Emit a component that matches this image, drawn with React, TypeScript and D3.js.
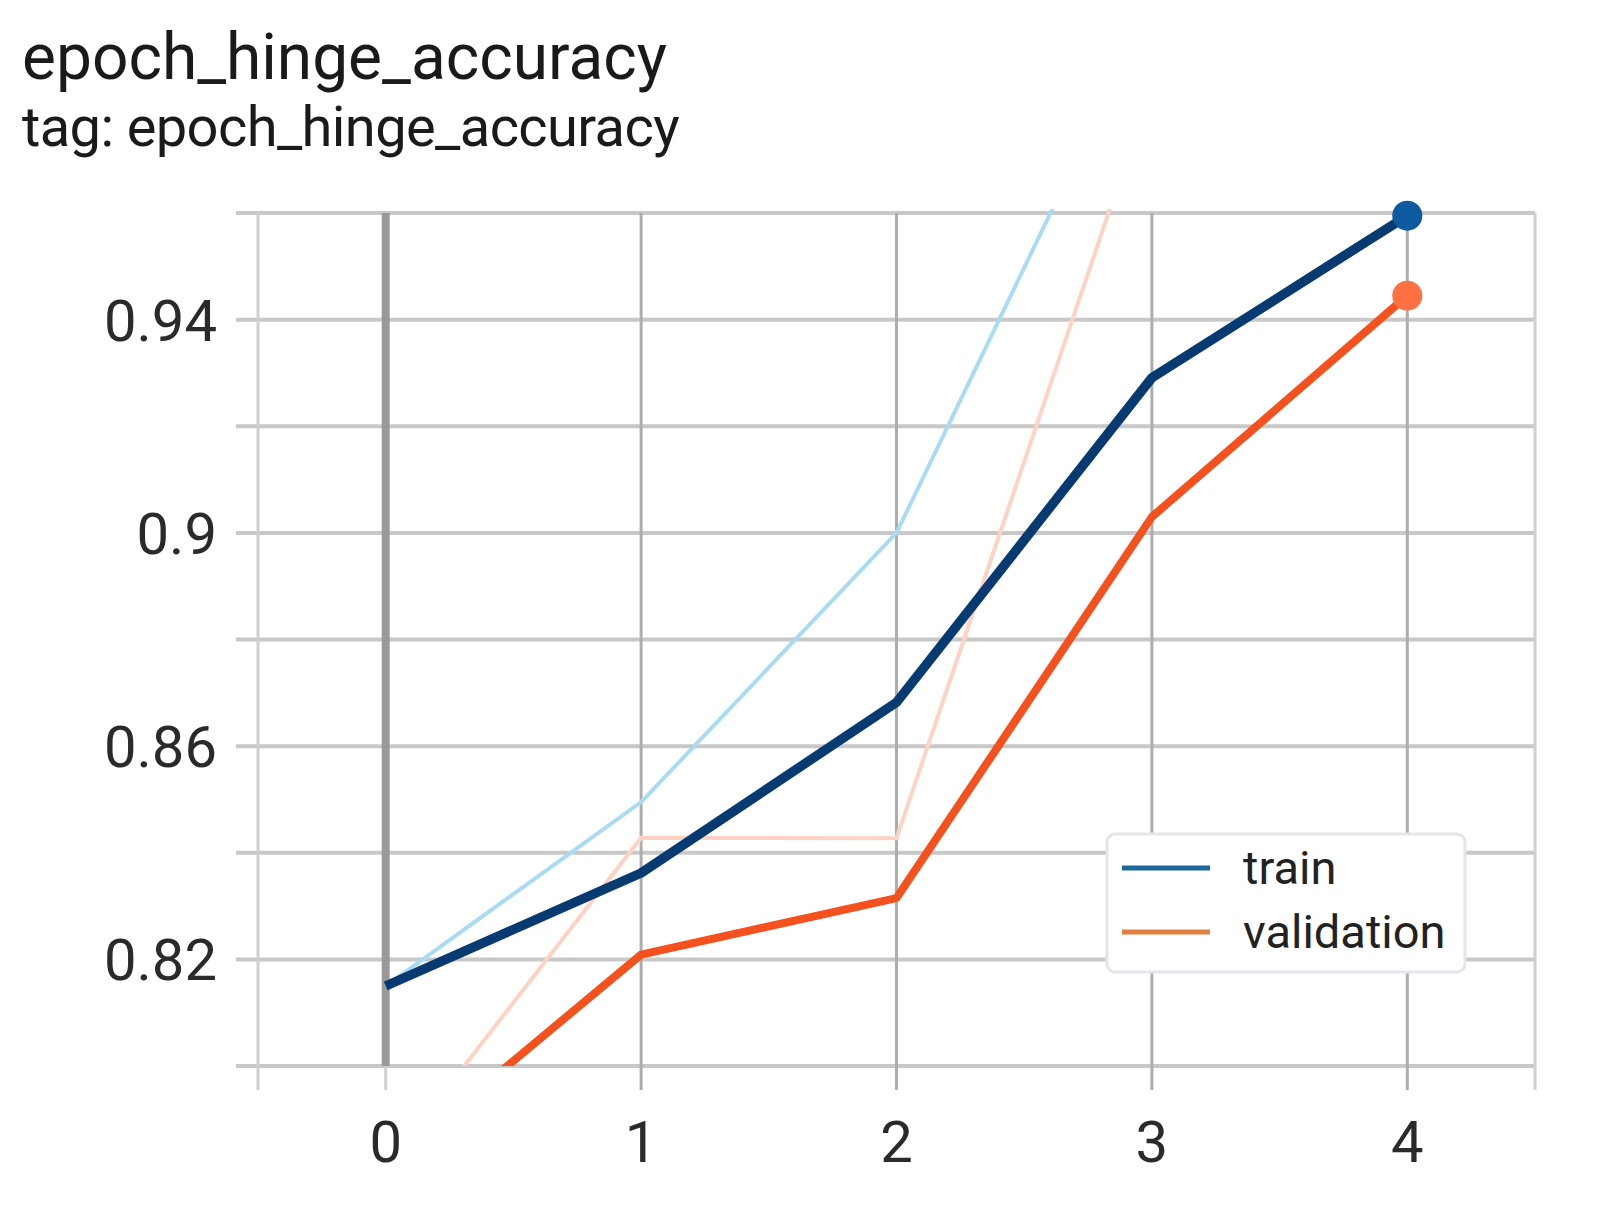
import React from 'react';
import * as d3 from 'd3';

// epochs on the x axis
const epochs = [0, 1, 2, 3, 4];

// smoothed series (dark lines)
const trainSmoothed = [0.815, 0.8362, 0.8682, 0.9291, 0.9595];
const validationSmoothed = [0.781, 0.8209, 0.8315, 0.903, 0.9445];

// raw series (faint lines)
const trainRaw = [0.815, 0.8495, 0.9, 0.9995, 1.0];
const validationRaw = [0.781, 0.8428, 0.8427, 0.984, 0.99];

const yTickLabels = [0.82, 0.86, 0.9, 0.94];
const yGridValues = [0.8, 0.82, 0.84, 0.86, 0.88, 0.9, 0.92, 0.94, 0.96];
const xGridValues = [-0.5, 1, 2, 3, 4, 4.5];

const legendItems = [
  { label: 'train', color: '#1c679c' },
  { label: 'validation', color: '#e4803f' },
];

const W = 1604;
const H = 1216;
const plot = { left: 258, right: 1535, top: 213, bottom: 1066 };

const App: React.FC = () => {
  const x = d3.scaleLinear().domain([-0.5, 4.5]).range([plot.left, plot.right]);
  const y = d3.scaleLinear().domain([0.8, 0.96]).range([plot.bottom, plot.top]);

  const line = d3
    .line<number>()
    .x((_, i) => x(epochs[i]))
    .y((d) => y(d));

  const font = "Roboto, 'Liberation Sans', Arial, sans-serif";

  return (
    <svg
      width={W}
      height={H}
      style={{ position: 'absolute', left: 0, top: 0, background: '#fff' }}
    >
      <defs>
        <clipPath id="plot-clip">
          <rect x={plot.left} y={plot.top - 4} width={plot.right - plot.left} height={plot.bottom - plot.top + 4} />
        </clipPath>
      </defs>

      {/* titles */}
      <text x={22} y={79} fontFamily={font} fontSize={64} fill="#1a1a1a">
        epoch_hinge_accuracy
      </text>
      <text x={22} y={146} fontFamily={font} fontSize={56} fill="#1a1a1a" letterSpacing={-0.6}>
        tag: epoch_hinge_accuracy
      </text>

      {/* horizontal grid */}
      {yGridValues.map((v) => (
        <line
          key={`h${v}`}
          x1={plot.left - 22}
          x2={plot.right}
          y1={y(v)}
          y2={y(v)}
          stroke="#c8c8c8"
          strokeWidth={4}
        />
      ))}

      {/* vertical grid */}
      {xGridValues.map((v) => (
        <line
          key={`v${v}`}
          x1={x(v)}
          x2={x(v)}
          y1={plot.top}
          y2={plot.bottom + 24}
          stroke={v === -0.5 || v === 4.5 ? '#cfcfcf' : '#adadad'}
          strokeWidth={3}
        />
      ))}
      {/* x = 0 axis line */}
      <line x1={x(0)} x2={x(0)} y1={plot.top} y2={plot.bottom} stroke="#999" strokeWidth={8} />
      <line x1={x(0)} x2={x(0)} y1={plot.bottom} y2={plot.bottom + 24} stroke="#d0d0d0" strokeWidth={3} />

      {/* y tick labels */}
      {yTickLabels.map((v) => (
        <text
          key={`yl${v}`}
          x={217}
          y={y(v)}
          dy="0.36em"
          textAnchor="end"
          fontFamily={font}
          fontSize={58}
          fill="#2a2a2a"
        >
          {d3.format('~g')(v)}
        </text>
      ))}

      {/* x tick labels */}
      {epochs.map((e) => (
        <text
          key={`xl${e}`}
          x={x(e)}
          y={1162}
          textAnchor="middle"
          fontFamily={font}
          fontSize={58}
          fill="#2a2a2a"
        >
          {e}
        </text>
      ))}

      <g clipPath="url(#plot-clip)">
        {/* raw series */}
        <path d={line(trainRaw) || ''} fill="none" stroke="#a9dcf2" strokeWidth={4} />
        <path d={line(validationRaw) || ''} fill="none" stroke="#ffd2c4" strokeWidth={4} />
        {/* smoothed series */}
        <path d={line(validationSmoothed) || ''} fill="none" stroke="#f4511e" strokeWidth={8} strokeLinejoin="round" />
        <path d={line(trainSmoothed) || ''} fill="none" stroke="#083a72" strokeWidth={9.5} strokeLinejoin="round" />
      </g>

      {/* last-point markers */}
      <circle cx={x(4)} cy={y(validationSmoothed[4])} r={15} fill="#ff7043" />
      <circle cx={x(4)} cy={y(trainSmoothed[4])} r={15} fill="#0d5a9e" />

      {/* legend */}
      <g>
        <rect x={1107} y={834} width={358} height={138} rx={8} fill="#fff" stroke="#e3e6ea" strokeWidth={3} />
        {legendItems.map((item, i) => (
          <g key={item.label} transform={`translate(1122, ${868 + i * 64})`}>
            <line x1={0} x2={88} y1={0} y2={0} stroke={item.color} strokeWidth={5} />
            <text x={121} y={0} dy="0.35em" fontFamily={font} fontSize={47} fill="#222">
              {item.label}
            </text>
          </g>
        ))}
      </g>
    </svg>
  );
};

export default App;
